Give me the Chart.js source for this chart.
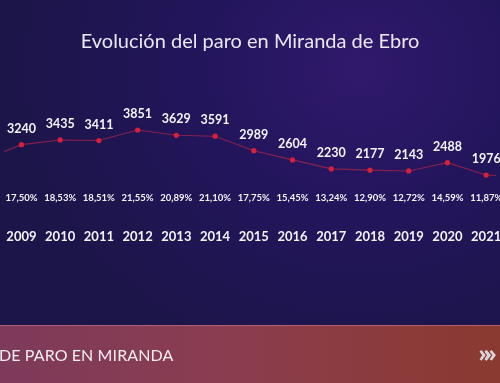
<!DOCTYPE html>
<html lang="es">
<head>
<meta charset="utf-8">
<script src="https://cdn.jsdelivr.net/npm/chart.js@4.4.1/dist/chart.umd.min.js"></script>
<style>
    html, body {
        margin: 0;
        padding: 0;
        width: 500px;
        height: 383px;
        overflow: hidden;
    }
    body {
        position: relative;
        background: radial-gradient(ellipse 70% 80% at 72% 18%, #30196c 0%, #23155c 45%, #1c1549 100%);
        font-family: 'Lato', 'Noto Sans', sans-serif;
    }
    #chart {
        position: absolute;
        left: 0;
        top: 0;
    }
    .banner {
        position: absolute;
        left: 0;
        top: 325px;
        width: 500px;
        height: 58px;
        background: linear-gradient(90deg, #7d3a5a 0%, #8b3d50 45%, #8b3b3a 80%, #8a3a30 100%);
        border-top: 1px solid rgba(230, 140, 170, 0.45);
        box-sizing: border-box;
    }
    .banner .text {
        position: absolute;
        left: -1px;
        top: 19px;
        color: #f4eef2;
        font-size: 16px;
        letter-spacing: 0.1px;
        white-space: nowrap;
    }
    .banner .logo {
        position: absolute;
        left: 478px;
        top: 8px;
        color: #d8d4d8;
        font-size: 30px;
        font-weight: 900;
        letter-spacing: -9px;
        transform: scaleY(0.8);
    }
</style>
</head>
<body>
<canvas id="chart" width="500" height="383"></canvas>
<div class="banner">
    <span class="text">DE PARO EN MIRANDA</span>
    <span class="logo">»»</span>
</div>
<script>
// Years shown (2008 and 2022 sit just outside the visible crop)
const years = [2008, 2009, 2010, 2011, 2012, 2013, 2014, 2015, 2016, 2017, 2018, 2019, 2020, 2021, 2022];
// Registered unemployed people (2008 and 2022 estimated from the line leaving the frame)
const parados = [2590, 3240, 3435, 3411, 3851, 3629, 3591, 2989, 2604, 2230, 2177, 2143, 2488, 1976, 1900];
// Unemployment rate labels
const tasas = [null, '17,50%', '18,53%', '18,51%', '21,55%', '20,89%', '21,10%', '17,75%', '15,45%', '13,24%', '12,90%', '12,72%', '14,59%', '11,87%', null];

const titleText = 'Evolución del paro en Miranda de Ebro';

// Draws the value labels, percentage row and year row
const labelsPlugin = {
    id: 'labelsPlugin',
    afterDatasetsDraw(chart) {
        const ctx = chart.ctx;
        const xScale = chart.scales.x;
        const yScale = chart.scales.y;
        const area = chart.chartArea;
        ctx.save();
        ctx.textAlign = 'center';
        ctx.textBaseline = 'middle';
        ctx.fillStyle = '#f5f3f8';
        years.forEach((year, i) => {
            const x = xScale.getPixelForValue(year);
            // value above the point
            ctx.font = 'bold 12.5px Lato, "Noto Sans", sans-serif';
            ctx.fillText(String(parados[i]), x, yScale.getPixelForValue(parados[i]) - 16);
            // percentage row
            if (tasas[i]) {
                ctx.font = 'bold 9.5px Lato, "Noto Sans", sans-serif';
                ctx.fillText(tasas[i], x, area.bottom - 52);
            }
            // year row
            ctx.font = 'bold 13px Lato, "Noto Sans", sans-serif';
            ctx.fillText(String(year), x, area.bottom - 13);
        });
        ctx.restore();
    }
};

function createChart() {
    const ctx = document.getElementById('chart').getContext('2d');
    new Chart(ctx, {
        type: 'line',
        data: {
            datasets: [{
                data: years.map((y, i) => ({ x: y, y: parados[i] })),
                borderColor: 'rgba(160, 35, 75, 0.8)',
                borderWidth: 1.1,
                pointRadius: 2.6,
                pointBackgroundColor: '#d8203a',
                pointBorderWidth: 0,
                tension: 0
            }]
        },
        options: {
            responsive: false,
            animation: false,
            layout: { padding: { top: 0, bottom: 133, left: 0, right: 0 } },
            scales: {
                x: { type: 'linear', min: 2008.55, max: 2021.254, display: false },
                y: { min: -1150, max: 5100, display: false }
            },
            plugins: {
                legend: { display: false },
                tooltip: { enabled: false },
                title: {
                    display: true,
                    text: titleText,
                    color: '#ebe7f2',
                    font: { family: 'Lato, "Noto Sans", sans-serif', size: 20, weight: 'normal' },
                    padding: { top: 30, bottom: 46 }
                }
            }
        },
        plugins: [labelsPlugin]
    });
}

document.addEventListener('DOMContentLoaded', createChart);
</script>
</body>
</html>
